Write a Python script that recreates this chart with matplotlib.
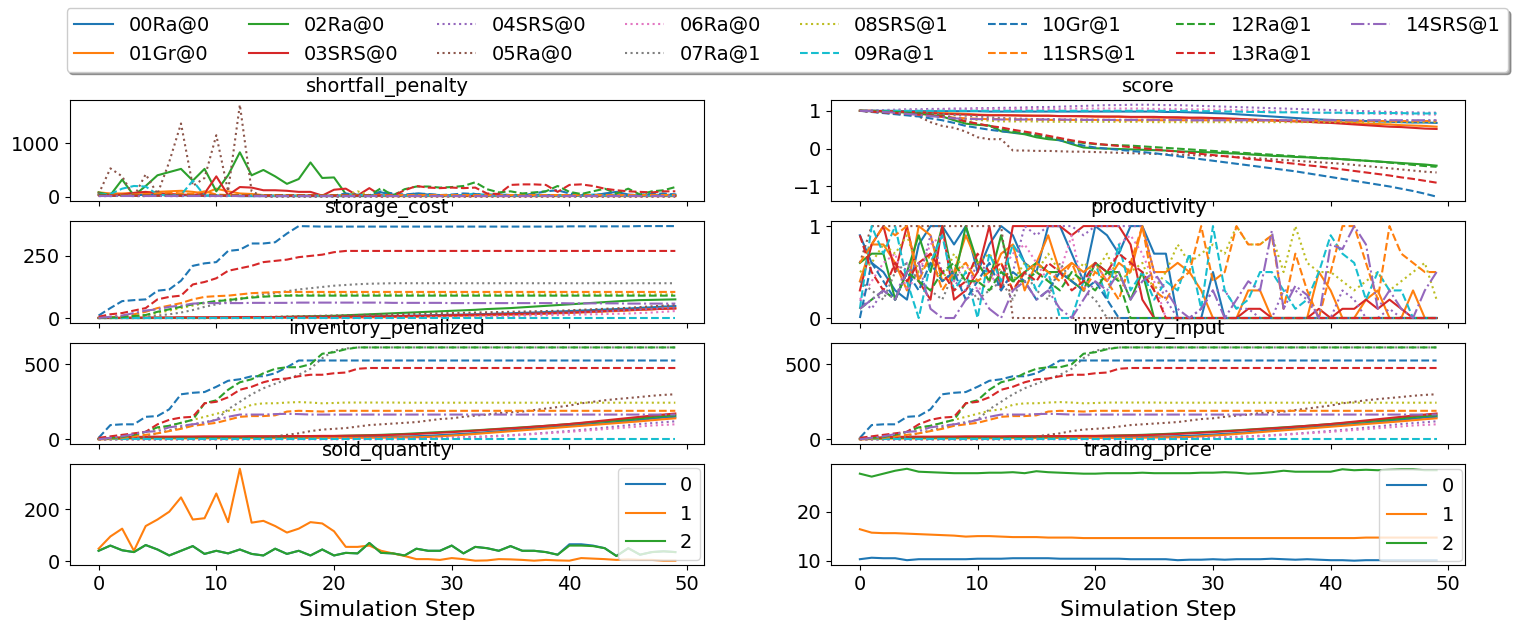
import numpy as np
import matplotlib
matplotlib.use("Agg")
import matplotlib.pyplot as plt

steps = np.arange(50)

agents = ["00Ra@0", "01Gr@0", "02Ra@0", "03SRS@0", "04SRS@0", "05Ra@0", "06Ra@0", "07Ra@1",
          "08SRS@1", "09Ra@1", "10Gr@1", "11SRS@1", "12Ra@1", "13Ra@1", "14SRS@1"]
styles = ["-"] * 4 + [":"] * 5 + ["--"] * 5 + ["-."]

# shortfall_penalty per agent
shortfall_penalty = [
    [40, 20, 30, 20, 40, 30, 30, 20, 30, 20, 20, 20, 10, 10, 10, 10, 10, 10, 10, 10,
     10, 10, 10, 10, 80, 40, 20, 60, 40, 30, 20, 20, 30, 40, 40, 30, 30, 40, 30, 20,
     20, 30, 20, 60, 90, 40, 20, 40, 30, 40],
    [80, 60, 60, 70, 80, 90, 100, 110, 90, 60, 150, 100, 60, 50, 30, 20, 20, 20, 20, 20,
     20, 20, 30, 20, 10, 10, 10, 10, 10, 10, 10, 10, 10, 10, 10, 10, 10, 10, 10, 10,
     10, 20, 10, 10, 10, 10, 10, 10, 10, 10],
    [80, 30, 320, 20, 200, 400, 460, 520, 300, 520, 100, 400, 830, 400, 500, 380, 240, 330, 640, 350,
     360, 50, 30, 20, 20, 20, 20, 20, 20, 20, 20, 20, 20, 20, 20, 20, 20, 20, 20, 20,
     20, 20, 20, 20, 20, 20, 20, 20, 20, 20],
    [30, 30, 40, 70, 90, 60, 50, 40, 30, 60, 380, 30, 180, 170, 120, 120, 110, 90, 90, 20,
     130, 150, 20, 160, 20, 20, 20, 20, 20, 20, 20, 20, 20, 20, 20, 20, 20, 20, 20, 20,
     20, 20, 20, 20, 20, 20, 20, 20, 20, 20],
    [10, 10, 20, 10, 10, 20, 10, 10, 20, 10, 10, 10, 20, 10, 10, 10, 10, 10, 10, 10,
     10, 10, 20, 10, 10, 10, 10, 10, 10, 10, 10, 10, 10, 10, 10, 10, 10, 10, 10, 10,
     10, 10, 10, 10, 10, 10, 10, 10, 10, 10],
    [50, 530, 380, 0, 420, 50, 650, 1370, 200, 350, 1150, 100, 1720, 100, 0, 0, 0, 0, 0, 0,
     0, 0, 0, 0, 0, 0, 0, 0, 0, 0, 0, 0, 0, 0, 0, 0, 0, 0, 0, 0,
     0, 0, 0, 0, 0, 0, 0, 0, 0, 0],
    [20, 20, 30, 20, 20, 30, 20, 20, 20, 20, 20, 20, 20, 20, 20, 20, 20, 20, 20, 20,
     20, 20, 20, 20, 20, 20, 20, 20, 20, 20, 20, 20, 20, 20, 20, 20, 20, 20, 20, 20,
     20, 20, 20, 20, 20, 20, 20, 20, 20, 20],
    [30, 20, 20, 30, 20, 20, 30, 20, 20, 20, 20, 30, 20, 20, 20, 20, 20, 20, 20, 20,
     20, 20, 20, 20, 20, 30, 20, 20, 20, 20, 20, 20, 40, 20, 20, 20, 20, 20, 20, 20,
     20, 20, 20, 20, 20, 20, 20, 20, 20, 20],
    [30, 30, 30, 30, 30, 40, 30, 30, 30, 30, 30, 30, 30, 30, 30, 30, 30, 30, 30, 30,
     30, 30, 100, 30, 30, 30, 30, 30, 30, 30, 30, 30, 30, 30, 30, 30, 30, 30, 30, 30,
     30, 30, 30, 30, 30, 30, 30, 30, 30, 30],
    [40, 50, 150, 200, 190, 40, 20, 30, 300, 20, 20, 20, 20, 20, 20, 20, 20, 20, 20, 20,
     20, 30, 40, 20, 20, 20, 20, 20, 20, 20, 20, 30, 60, 20, 20, 20, 20, 20, 20, 20,
     20, 20, 40, 20, 20, 20, 20, 20, 20, 20],
    [20, 20, 20, 20, 20, 20, 20, 20, 20, 20, 20, 20, 20, 20, 20, 20, 20, 20, 20, 20,
     20, 60, 30, 20, 100, 60, 40, 60, 50, 30, 40, 60, 50, 30, 40, 30, 20, 60, 100, 120,
     60, 40, 30, 50, 40, 30, 40, 50, 60, 40],
    [30, 30, 30, 40, 50, 60, 80, 60, 50, 100, 40, 30, 30, 30, 30, 30, 30, 30, 30, 30,
     30, 30, 30, 30, 30, 30, 30, 30, 30, 30, 30, 30, 30, 30, 30, 30, 30, 30, 30, 30,
     30, 30, 30, 30, 30, 30, 30, 30, 30, 30],
    [40, 20, 20, 20, 20, 20, 20, 20, 20, 20, 20, 20, 20, 20, 20, 20, 20, 20, 20, 20,
     20, 20, 20, 20, 160, 20, 140, 190, 190, 170, 180, 200, 270, 140, 80, 100, 60, 80, 100, 200,
     90, 50, 100, 150, 60, 150, 40, 100, 120, 180],
    [20, 20, 20, 20, 20, 20, 20, 20, 20, 20, 20, 20, 20, 20, 20, 20, 20, 20, 20, 20,
     20, 20, 20, 20, 20, 20, 120, 200, 170, 160, 170, 160, 170, 60, 50, 220, 230, 230, 220, 90,
     220, 230, 200, 150, 120, 100, 90, 80, 100, 100],
    [10, 10, 10, 10, 10, 10, 10, 10, 10, 10, 10, 10, 10, 10, 10, 10, 10, 10, 10, 10,
     10, 10, 10, 10, 10, 10, 10, 10, 10, 10, 10, 10, 10, 10, 10, 10, 10, 10, 10, 10,
     10, 10, 10, 10, 10, 10, 10, 10, 10, 10],
]

score = [
    [1.00, 1.00, 1.00, 1.00, 0.99, 0.99, 0.99, 0.99, 0.99, 0.99, 0.99, 0.98, 0.98, 0.98, 0.98, 0.98, 0.98, 0.98, 0.98, 0.98,
     0.98, 0.98, 0.98, 0.98, 0.98, 0.98, 0.97, 0.97, 0.96, 0.95, 0.94, 0.93, 0.91, 0.89, 0.87, 0.85, 0.83, 0.81, 0.79, 0.77,
     0.76, 0.75, 0.74, 0.73, 0.72, 0.71, 0.70, 0.69, 0.69, 0.68],
    [1.00, 1.00, 0.99, 0.98, 0.97, 0.96, 0.95, 0.94, 0.93, 0.92, 0.90, 0.89, 0.89, 0.88, 0.88, 0.87, 0.87, 0.86, 0.86, 0.85,
     0.85, 0.84, 0.84, 0.83, 0.83, 0.82, 0.82, 0.81, 0.81, 0.80, 0.80, 0.79, 0.78, 0.77, 0.76, 0.75, 0.74, 0.73, 0.72, 0.71,
     0.70, 0.69, 0.68, 0.66, 0.65, 0.64, 0.62, 0.61, 0.60, 0.58],
    [1.00, 0.99, 0.98, 0.97, 0.95, 0.92, 0.89, 0.85, 0.75, 0.66, 0.63, 0.61, 0.46, 0.42, 0.38, 0.30, 0.25, 0.22, 0.12, 0.03,
     0.01, 0.00, -0.01, -0.02, -0.03, -0.04, -0.05, -0.07, -0.08, -0.09, -0.10, -0.12, -0.13, -0.15, -0.17, -0.19, -0.20, -0.22, -0.23, -0.25,
     -0.26, -0.28, -0.30, -0.32, -0.34, -0.36, -0.38, -0.40, -0.42, -0.45],
    [1.00, 1.00, 0.99, 0.98, 0.97, 0.96, 0.94, 0.92, 0.91, 0.90, 0.89, 0.88, 0.88, 0.88, 0.87, 0.87, 0.87, 0.86, 0.86, 0.86,
     0.85, 0.85, 0.85, 0.84, 0.84, 0.84, 0.83, 0.83, 0.82, 0.82, 0.81, 0.80, 0.79, 0.77, 0.76, 0.75, 0.73, 0.72, 0.71, 0.69,
     0.68, 0.66, 0.64, 0.62, 0.60, 0.58, 0.57, 0.55, 0.53, 0.52],
    [1.00, 1.01, 1.02, 1.03, 1.04, 1.04, 1.05, 1.05, 1.06, 1.06, 1.07, 1.07, 1.08, 1.08, 1.09, 1.10, 1.10, 1.11, 1.12, 1.13,
     1.14, 1.15, 1.15, 1.16, 1.16, 1.16, 1.15, 1.15, 1.14, 1.13, 1.12, 1.11, 1.10, 1.09, 1.08, 1.07, 1.06, 1.05, 1.04, 1.03,
     1.02, 1.01, 1.00, 0.99, 0.98, 0.97, 0.96, 0.96, 0.95, 0.95],
    [1.00, 0.97, 0.95, 0.92, 0.90, 0.85, 0.70, 0.60, 0.55, 0.45, 0.30, 0.25, 0.25, -0.05, -0.05, -0.06, -0.06, -0.07, -0.08, -0.08,
     -0.09, -0.10, -0.11, -0.12, -0.13, -0.14, -0.15, -0.16, -0.17, -0.18, -0.19, -0.20, -0.22, -0.24, -0.26, -0.28, -0.30, -0.32, -0.34, -0.36,
     -0.38, -0.40, -0.43, -0.46, -0.49, -0.52, -0.55, -0.58, -0.61, -0.63],
    [1.00, 1.00, 1.01, 1.01, 1.02, 1.02, 1.02, 1.03, 1.03, 1.03, 1.04, 1.04, 1.04, 1.05, 1.05, 1.05, 1.05, 1.05, 1.06, 1.06,
     1.06, 1.06, 1.06, 1.06, 1.06, 1.05, 1.05, 1.05, 1.04, 1.04, 1.03, 1.03, 1.02, 1.01, 1.00, 0.99, 0.98, 0.97, 0.96, 0.95,
     0.95, 0.94, 0.93, 0.93, 0.92, 0.92, 0.91, 0.91, 0.90, 0.90],
    [1.00, 0.99, 0.98, 0.97, 0.96, 0.95, 0.93, 0.91, 0.89, 0.87, 0.85, 0.83, 0.81, 0.80, 0.79, 0.78, 0.78, 0.77, 0.77, 0.77,
     0.76, 0.76, 0.76, 0.76, 0.76, 0.76, 0.76, 0.75, 0.75, 0.75, 0.75, 0.75, 0.75, 0.75, 0.75, 0.75, 0.75, 0.74, 0.74, 0.74,
     0.74, 0.74, 0.74, 0.74, 0.74, 0.74, 0.74, 0.74, 0.74, 0.74],
    [1.00, 0.99, 0.97, 0.95, 0.93, 0.90, 0.87, 0.84, 0.81, 0.78, 0.76, 0.74, 0.72, 0.72, 0.72, 0.72, 0.71, 0.71, 0.71, 0.71,
     0.71, 0.71, 0.71, 0.71, 0.71, 0.70, 0.70, 0.70, 0.70, 0.70, 0.70, 0.70, 0.70, 0.70, 0.70, 0.70, 0.70, 0.70, 0.70, 0.70,
     0.70, 0.70, 0.70, 0.70, 0.70, 0.70, 0.70, 0.70, 0.70, 0.70],
    [1.00, 1.00, 1.00, 1.00, 1.00, 1.00, 1.00, 1.00, 1.00, 1.00, 1.00, 1.00, 1.00, 1.00, 1.00, 1.00, 1.00, 1.00, 1.00, 1.00,
     1.00, 1.00, 1.00, 1.00, 1.00, 1.00, 1.00, 1.00, 1.00, 0.99, 0.99, 0.98, 0.98, 0.97, 0.97, 0.96, 0.96, 0.96, 0.95, 0.95,
     0.95, 0.95, 0.94, 0.94, 0.94, 0.94, 0.94, 0.93, 0.93, 0.93],
    [1.00, 0.97, 0.94, 0.91, 0.88, 0.85, 0.80, 0.75, 0.68, 0.60, 0.55, 0.50, 0.46, 0.43, 0.40, 0.35, 0.30, 0.22, 0.15, 0.08,
     0.03, 0.00, -0.03, -0.06, -0.09, -0.12, -0.16, -0.20, -0.24, -0.28, -0.32, -0.36, -0.40, -0.44, -0.48, -0.52, -0.56, -0.60, -0.65, -0.70,
     -0.75, -0.80, -0.85, -0.90, -0.95, -1.00, -1.06, -1.12, -1.19, -1.27],
    [1.00, 0.99, 0.97, 0.95, 0.93, 0.90, 0.87, 0.84, 0.82, 0.80, 0.79, 0.78, 0.78, 0.77, 0.77, 0.77, 0.76, 0.76, 0.76, 0.76,
     0.76, 0.76, 0.75, 0.75, 0.75, 0.75, 0.75, 0.75, 0.75, 0.75, 0.75, 0.75, 0.75, 0.74, 0.74, 0.74, 0.74, 0.74, 0.74, 0.74,
     0.74, 0.74, 0.74, 0.73, 0.73, 0.73, 0.73, 0.73, 0.73, 0.73],
    [1.00, 0.99, 0.98, 0.97, 0.95, 0.93, 0.90, 0.87, 0.80, 0.72, 0.65, 0.60, 0.52, 0.45, 0.40, 0.35, 0.30, 0.26, 0.20, 0.15,
     0.12, 0.10, 0.09, 0.08, 0.06, 0.04, 0.02, 0.00, -0.02, -0.04, -0.06, -0.08, -0.10, -0.12, -0.14, -0.16, -0.18, -0.20, -0.22, -0.24,
     -0.26, -0.28, -0.30, -0.32, -0.34, -0.37, -0.40, -0.43, -0.46, -0.48],
    [1.00, 0.98, 0.96, 0.94, 0.92, 0.90, 0.88, 0.85, 0.80, 0.72, 0.66, 0.60, 0.56, 0.50, 0.45, 0.40, 0.34, 0.28, 0.22, 0.17,
     0.13, 0.10, 0.07, 0.04, 0.01, -0.02, -0.05, -0.08, -0.11, -0.14, -0.17, -0.20, -0.23, -0.27, -0.30, -0.33, -0.37, -0.40, -0.44, -0.47,
     -0.51, -0.55, -0.59, -0.63, -0.67, -0.71, -0.76, -0.80, -0.85, -0.90],
    [1.00, 0.99, 0.97, 0.95, 0.92, 0.89, 0.86, 0.83, 0.80, 0.79, 0.78, 0.78, 0.77, 0.77, 0.77, 0.77, 0.77, 0.77, 0.76, 0.76,
     0.76, 0.76, 0.76, 0.76, 0.76, 0.76, 0.76, 0.76, 0.75, 0.75, 0.75, 0.75, 0.75, 0.75, 0.75, 0.75, 0.75, 0.75, 0.75, 0.75,
     0.75, 0.75, 0.75, 0.75, 0.75, 0.75, 0.75, 0.75, 0.75, 0.75],
]

storage_cost = [
    [0, 0, 0, 0, 0, 0, 0, 0, 0, 0, 1, 1, 1, 1, 1, 1, 2, 2, 2, 3, 3, 4, 5, 6, 7, 8, 9, 10, 11, 12,
     13, 14, 15, 16, 18, 19, 21, 22, 24, 26, 28, 30, 32, 34, 36, 38, 41, 43, 46, 48],
    [0, 0, 0, 0, 0, 0, 0, 0, 0, 0, 0, 0, 0, 0, 0, 1, 1, 1, 1, 1, 2, 2, 2, 3, 3, 4, 4, 5, 6, 7,
     8, 9, 10, 11, 12, 13, 14, 16, 17, 19, 20, 22, 24, 26, 28, 30, 33, 35, 38, 40],
    [0, 0, 0, 0, 0, 1, 1, 1, 1, 1, 2, 2, 2, 3, 3, 4, 5, 6, 7, 8, 9, 11, 13, 15, 17, 19, 21, 23, 25, 27,
     29, 31, 33, 36, 38, 40, 43, 46, 49, 52, 55, 58, 61, 64, 67, 70, 72, 73, 74, 75],
    [1, 1, 1, 2, 2, 2, 2, 3, 3, 3, 3, 3, 4, 4, 4, 4, 4, 5, 5, 5, 5, 6, 6, 6, 7, 7, 8, 8, 9, 10,
     11, 12, 13, 14, 15, 16, 17, 18, 19, 21, 22, 24, 26, 28, 30, 32, 34, 35, 37, 38],
    [0, 0, 0, 0, 0, 0, 0, 0, 0, 0, 0, 0, 0, 0, 0, 0, 0, 0, 0, 0, 0, 0, 0, 0, 0, 0, 1, 1, 2, 3,
     4, 5, 6, 7, 9, 10, 12, 14, 16, 18, 20, 22, 24, 27, 29, 32, 35, 37, 40, 42],
    [0, 0, 0, 0, 0, 0, 0, 0, 0, 0, 0, 1, 2, 3, 4, 5, 6, 7, 8, 9, 10, 11, 12, 13, 14, 15, 16, 17, 18, 19,
     20, 21, 22, 23, 24, 25, 26, 27, 28, 29, 31, 33, 35, 37, 39, 41, 44, 47, 50, 52],
    [0, 0, 0, 0, 0, 0, 0, 0, 0, 0, 0, 0, 0, 0, 0, 0, 0, 0, 0, 0, 0, 0, 0, 0, 0, 1, 1, 2, 2, 3,
     3, 4, 5, 6, 7, 8, 9, 10, 11, 12, 13, 14, 15, 16, 17, 18, 20, 22, 25, 28],
    [0, 1, 2, 4, 6, 10, 15, 22, 32, 45, 55, 65, 75, 85, 95, 100, 108, 115, 120, 125, 130, 133, 136, 138, 139, 140, 140, 140, 140, 140,
     140, 140, 140, 140, 140, 140, 140, 140, 140, 140, 140, 140, 140, 140, 140, 140, 140, 140, 140, 140],
    [0, 2, 4, 8, 12, 20, 30, 40, 50, 60, 68, 75, 80, 85, 88, 90, 92, 93, 94, 95, 95, 95, 95, 95, 95, 95, 95, 95, 95, 95,
     95, 95, 95, 95, 95, 95, 95, 95, 95, 95, 95, 95, 95, 95, 95, 95, 95, 95, 95, 95],
    [0] * 50,
    [10, 40, 68, 72, 75, 110, 115, 150, 210, 220, 225, 270, 275, 300, 300, 305, 340, 370, 369, 368, 368, 368, 368, 368, 368, 368, 368, 368, 368, 368,
     368, 368, 368, 368, 368, 368, 368, 368, 368, 368, 369, 369, 369, 369, 369, 369, 370, 370, 370, 370],
    [0, 3, 8, 15, 25, 40, 50, 60, 75, 85, 88, 90, 95, 100, 102, 104, 105, 105, 105, 105, 105, 105, 105, 105, 105, 105, 105, 105, 105, 105,
     105, 105, 105, 105, 105, 105, 105, 105, 105, 105, 105, 105, 105, 105, 105, 105, 105, 105, 105, 105],
    [0, 2, 4, 8, 12, 25, 35, 45, 55, 62, 68, 72, 78, 82, 86, 88, 90, 90, 90, 90, 90, 90, 90, 90, 90, 90, 90, 90, 90, 90,
     90, 90, 90, 90, 90, 90, 90, 90, 90, 90, 90, 90, 90, 90, 90, 90, 90, 90, 90, 90],
    [5, 15, 20, 30, 40, 75, 85, 90, 135, 145, 160, 190, 200, 210, 225, 230, 235, 245, 250, 255, 265, 270, 270, 270, 270, 270, 270, 270, 270, 270,
     270, 270, 270, 270, 270, 270, 270, 270, 270, 270, 270, 270, 270, 270, 270, 270, 270, 270, 270, 270],
    [0, 5, 10, 20, 30, 35, 45, 50, 58, 60, 60, 60, 60, 61, 61, 61, 61, 62, 62, 62, 62, 62, 62, 62, 62, 61, 61, 61, 61, 61,
     60, 60, 60, 60, 60, 60, 60, 60, 60, 60, 59, 59, 59, 59, 59, 58, 58, 58, 58, 58],
]

productivity = [
    [0.9, 0.6, 0.5, 0.3, 0.2, 0.8, 1.0, 1.0, 0.8, 1.0, 0.5, 0.8, 1.0, 0.9, 0.6, 0.5, 1.0, 1.0, 0.7, 0.4,
     1.0, 0.9, 0.7, 1.0, 1.0, 0.7, 0.7, 0.0, 0.0, 0.0, 0.5, 0.0, 0.0, 0.0, 0.0, 0.0, 0.0, 0.0, 0.0, 0.0,
     0.0, 0.0, 0.0, 0.0, 0.0, 0.0, 0.0, 0.0, 0.0, 0.0],
    [0.4, 0.8, 0.8, 0.6, 0.3, 1.0, 0.9, 0.4, 0.5, 0.9, 0.6, 0.4, 0.7, 0.8, 0.3, 0.6, 0.9, 0.5, 0.6, 0.5,
     0.6, 0.4, 0.6, 0.5, 1.0, 0.5, 0.5, 0.6, 0.5, 0.3, 0.0, 0.0, 0.0, 0.3, 0.3, 0.0, 0.0, 0.0, 0.0, 0.5,
     0.3, 0.0, 0.0, 0.2, 0.3, 0.0, 0.0, 0.3, 0.0, 0.0],
    [0.6, 0.7, 0.7, 0.2, 0.5, 0.9, 0.5, 1.0, 0.4, 1.0, 0.6, 0.4, 0.9, 0.4, 0.5, 0.6, 0.5, 0.5, 0.4, 0.3,
     0.6, 0.5, 0.5, 0.2, 0.5, 0.0, 0.0, 0.0, 0.0, 0.0, 0.0, 0.0, 0.0, 0.0, 0.0, 0.0, 0.0, 0.0, 0.0, 0.0,
     0.0, 0.0, 0.0, 0.0, 0.0, 0.0, 0.0, 0.0, 0.0, 0.0],
    [0.3, 0.8, 1.0, 0.5, 1.0, 0.4, 0.2, 1.0, 0.2, 0.3, 0.5, 1.0, 0.3, 1.0, 1.0, 1.0, 1.0, 1.0, 0.9, 1.0,
     1.0, 1.0, 1.0, 0.8, 0.2, 0.0, 0.0, 0.0, 0.0, 0.0, 0.0, 0.0, 0.0, 0.1, 0.1, 0.0, 0.0, 0.0, 0.0, 0.1,
     0.0, 0.1, 0.1, 0.2, 0.1, 0.2, 0.1, 0.0, 0.0, 0.0],
    [0.2, 0.1, 0.3, 0.2, 0.6, 0.4, 0.9, 0.5, 0.4, 0.3, 0.6, 0.5, 0.3, 0.5, 1.0, 0.9, 1.0, 1.0, 1.0, 0.9,
     1.0, 1.0, 1.0, 1.0, 1.0, 0.5, 0.2, 0.0, 0.0, 0.1, 0.3, 0.3, 0.1, 0.1, 0.0, 0.0, 0.3, 0.3, 0.2, 0.0,
     0.0, 0.3, 0.2, 0.0, 0.0, 0.1, 0.0, 0.0, 0.0, 0.0],
    [0.6, 1.0, 1.0, 1.0, 1.0, 1.0, 1.0, 1.0, 1.0, 1.0, 1.0, 1.0, 1.0, 0.0, 0.0, 0.0, 0.0, 0.0, 0.0, 0.0,
     0.0, 0.0, 0.0, 0.0, 0.0, 0.0, 0.0, 0.0, 0.0, 0.0, 0.0, 0.0, 0.0, 0.0, 0.0, 0.0, 0.0, 0.0, 0.0, 0.0,
     0.0, 0.0, 0.0, 0.0, 0.0, 0.0, 0.0, 0.0, 0.0, 0.0],
    [0.2, 0.4, 0.6, 0.7, 0.3, 0.5, 0.8, 0.9, 0.4, 0.6, 0.3, 0.4, 0.5, 0.7, 0.8, 0.6, 0.4, 0.5, 0.9, 0.3,
     0.6, 0.4, 0.8, 0.9, 0.7, 0.4, 0.0, 0.0, 0.0, 0.0, 0.0, 0.0, 0.0, 0.0, 0.0, 0.0, 0.0, 0.0, 0.0, 0.0,
     0.0, 0.0, 0.0, 0.0, 0.0, 0.0, 0.0, 0.0, 0.0, 0.0],
    [0.4, 0.3, 0.2, 0.5, 0.6, 0.4, 0.3, 0.2, 0.5, 0.4, 0.2, 0.3, 0.4, 0.2, 0.5, 0.3, 0.2, 0.6, 0.4, 0.3,
     0.2, 0.0, 0.0, 0.0, 0.0, 0.0, 0.0, 0.0, 0.0, 0.0, 0.0, 0.0, 0.0, 0.0, 0.0, 0.0, 0.0, 0.0, 0.0, 0.0,
     0.0, 0.0, 0.0, 0.0, 0.0, 0.0, 0.0, 0.0, 0.0, 0.0],
    [0.5, 0.6, 0.8, 0.7, 0.9, 0.5, 0.6, 0.4, 0.7, 0.5, 0.6, 0.7, 0.5, 0.4, 0.6, 0.5, 0.7, 0.5, 0.4, 0.6,
     0.5, 0.7, 0.4, 0.5, 0.6, 0.3, 0.5, 0.8, 0.6, 0.7, 0.8, 0.7, 1.0, 0.8, 0.8, 0.9, 0.5, 1.0, 0.6, 0.5,
     0.5, 0.4, 0.3, 0.4, 0.5, 0.3, 0.4, 0.5, 0.6, 0.2],
    [0.1, 1.0, 0.7, 1.0, 0.4, 0.0, 0.6, 0.9, 0.3, 0.5, 0.0, 0.7, 0.4, 0.8, 0.6, 0.3, 0.5, 0.0, 0.0, 0.4,
     0.6, 0.2, 0.8, 0.3, 0.5, 0.2, 0.4, 0.3, 0.7, 0.1, 1.0, 0.3, 0.1, 0.2, 0.5, 0.5, 0.3, 0.1, 0.2, 0.5,
     0.9, 0.7, 0.6, 0.2, 0.5, 0.3, 0.3, 0.0, 0.0, 0.0],
    [0.0, 0.6, 0.4, 0.2, 0.5, 0.3, 0.6, 0.4, 0.5, 0.2, 0.4, 0.6, 0.3, 0.5, 0.4, 0.2, 0.3, 0.5, 0.4, 0.3,
     0.4, 0.2, 0.0, 0.0, 0.0, 0.0, 0.0, 0.0, 0.0, 0.0, 0.0, 0.0, 0.0, 0.0, 0.0, 0.0, 0.0, 0.0, 0.0, 0.0,
     0.0, 0.0, 0.0, 0.0, 0.0, 0.0, 0.0, 0.0, 0.0, 0.0],
    [0.6, 0.8, 1.0, 0.9, 1.0, 0.4, 0.7, 0.3, 0.5, 0.6, 0.4, 0.5, 0.6, 0.3, 0.5, 0.6, 0.5, 0.4, 0.6, 0.3,
     0.5, 0.4, 0.2, 0.6, 1.0, 0.3, 0.2, 0.4, 0.5, 1.0, 0.4, 0.5, 1.0, 0.8, 0.8, 0.9, 0.1, 0.7, 0.3, 0.0,
     0.5, 1.0, 1.0, 0.6, 0.2, 1.0, 0.7, 0.6, 0.5, 0.5],
    [0.1, 0.2, 0.3, 0.2, 0.5, 0.4, 0.3, 0.5, 0.6, 0.4, 0.4, 0.3, 0.5, 0.4, 0.4, 0.5, 0.4, 0.3, 0.5, 0.4,
     0.3, 0.5, 0.4, 0.0, 0.0, 0.0, 0.0, 0.0, 0.0, 0.0, 0.0, 0.0, 0.0, 0.0, 0.0, 0.0, 0.0, 0.0, 0.0, 0.0,
     0.0, 0.0, 0.0, 0.0, 0.0, 0.0, 0.0, 0.0, 0.0, 0.0],
    [0.9, 0.5, 0.3, 0.6, 0.4, 0.6, 0.7, 0.5, 0.3, 0.4, 0.7, 0.5, 0.6, 0.3, 0.5, 0.4, 0.6, 0.5, 0.3, 0.4,
     0.6, 0.5, 0.7, 0.6, 0.5, 0.3, 0.0, 0.0, 0.0, 0.0, 0.0, 0.0, 0.0, 0.0, 0.0, 0.0, 0.0, 0.0, 0.0, 0.0,
     0.0, 0.0, 0.0, 0.0, 0.0, 0.0, 0.0, 0.0, 0.0, 0.0],
    [0.1, 0.2, 0.3, 0.2, 0.5, 0.6, 0.1, 0.0, 0.0, 0.2, 0.3, 0.1, 0.0, 0.3, 0.4, 0.2, 0.3, 0.1, 0.0, 0.2,
     0.4, 0.3, 0.5, 0.2, 0.4, 0.5, 0.3, 0.1, 0.0, 0.1, 0.3, 0.0, 0.2, 0.4, 0.3, 0.95, 0.1, 0.35, 0.25, 0.0,
     0.8, 0.75, 1.0, 0.8, 0.1, 0.3, 0.1, 0.0, 0.3, 0.5],
]

inventory_penalized = [
    [2, 5, 8, 10, 10, 10, 11, 11, 11, 11, 12, 12, 12, 12, 13, 13, 13, 13, 14, 14, 14, 15, 15, 15, 16, 17, 19, 21, 24, 28,
     32, 37, 42, 48, 54, 60, 66, 72, 78, 84, 90, 96, 102, 108, 115, 122, 130, 138, 145, 150],
    [0, 2, 4, 5, 5, 6, 6, 6, 7, 7, 7, 7, 8, 8, 8, 8, 9, 9, 9, 10, 10, 10, 10, 11, 11, 12, 13, 14, 16, 20,
     25, 30, 36, 42, 48, 54, 60, 66, 72, 78, 84, 90, 96, 102, 108, 114, 120, 127, 134, 140],
    [3, 6, 8, 10, 11, 12, 12, 13, 13, 14, 14, 15, 15, 16, 16, 17, 18, 19, 20, 21, 22, 24, 26, 28, 30, 33, 36, 40, 44, 48,
     52, 56, 60, 65, 70, 75, 80, 85, 90, 96, 102, 108, 114, 120, 126, 132, 140, 148, 155, 160],
    [5, 10, 14, 16, 17, 18, 18, 19, 19, 20, 20, 20, 20, 21, 21, 21, 22, 22, 22, 23, 23, 24, 25, 26, 28, 30, 33, 36, 40, 44,
     48, 53, 58, 63, 68, 73, 78, 84, 90, 96, 102, 110, 118, 126, 134, 142, 150, 158, 165, 172],
    [0, 0, 1, 1, 1, 1, 2, 2, 2, 2, 3, 3, 3, 3, 4, 4, 4, 5, 5, 5, 5, 6, 6, 6, 7, 7, 8, 8, 9, 10,
     12, 14, 17, 20, 24, 28, 33, 38, 44, 50, 56, 63, 70, 78, 86, 94, 102, 108, 114, 120],
    [0, 0, 0, 0, 0, 0, 0, 0, 0, 0, 0, 0, 0, 2, 10, 20, 30, 40, 55, 65, 70, 75, 85, 95, 100, 105, 110, 115, 125, 135,
     140, 150, 158, 165, 175, 180, 185, 195, 205, 215, 225, 240, 250, 260, 268, 275, 282, 290, 296, 300],
    [0, 0, 0, 0, 0, 0, 0, 0, 0, 0, 0, 0, 0, 0, 0, 0, 0, 0, 0, 0, 0, 0, 0, 0, 0, 0, 1, 2, 3, 5,
     7, 10, 13, 17, 21, 25, 30, 35, 40, 45, 50, 56, 62, 68, 74, 80, 86, 92, 96, 100],
    [0, 2, 5, 10, 20, 40, 60, 80, 100, 115, 130, 200, 250, 300, 340, 370, 400, 430, 470, 540, 590, 605, 612, 612, 612, 612, 612, 612, 612, 612,
     612, 612, 612, 612, 612, 612, 612, 612, 612, 612, 612, 612, 612, 612, 612, 612, 612, 612, 612, 612],
    [0, 5, 15, 30, 50, 70, 90, 110, 130, 150, 170, 190, 200, 230, 240, 240, 245, 248, 245, 240, 242, 245, 245, 245, 245, 245, 244, 244, 244, 244,
     244, 244, 244, 244, 244, 244, 244, 244, 244, 244, 244, 244, 244, 244, 244, 244, 244, 244, 244, 244],
    [0] * 50,
    [10, 95, 100, 100, 150, 155, 200, 300, 310, 315, 350, 390, 400, 420, 420, 440, 480, 525, 525, 525, 525, 525, 525, 525, 525, 525, 525, 525, 525, 525,
     525, 525, 525, 525, 525, 525, 525, 525, 525, 525, 525, 525, 525, 525, 525, 525, 525, 525, 525, 525],
    [0, 5, 10, 20, 30, 40, 55, 70, 90, 100, 110, 130, 150, 155, 155, 160, 185, 190, 188, 185, 190, 190, 190, 190, 190, 190, 190, 190, 190, 190,
     190, 190, 190, 190, 190, 190, 190, 190, 190, 190, 190, 190, 190, 190, 190, 190, 190, 190, 190, 190],
    [5, 10, 15, 30, 50, 80, 90, 110, 130, 240, 260, 330, 380, 400, 440, 470, 480, 480, 500, 570, 580, 600, 612, 612, 612, 612, 612, 612, 612, 612,
     612, 612, 612, 612, 612, 612, 612, 612, 612, 612, 612, 612, 612, 612, 612, 612, 612, 612, 612, 612],
    [10, 20, 30, 40, 50, 100, 130, 145, 150, 240, 250, 280, 330, 350, 380, 400, 405, 420, 430, 430, 440, 445, 470, 475, 475, 475, 475, 475, 475, 475,
     475, 475, 475, 475, 475, 475, 475, 475, 475, 475, 475, 475, 475, 475, 475, 475, 475, 475, 475, 475],
    [0, 10, 20, 35, 50, 55, 80, 90, 100, 110, 130, 150, 165, 165, 165, 168, 170, 168, 165, 165, 165, 165, 165, 165, 165, 165, 165, 165, 165, 165,
     165, 165, 165, 165, 165, 165, 165, 165, 165, 165, 165, 165, 165, 165, 165, 165, 165, 165, 165, 165],
]

# inventory_input is drawn identical to inventory_penalized in the source
inventory_input = inventory_penalized

products = ["0", "1", "2"]
sold_quantity = [
    [40, 60, 42, 35, 62, 45, 22, 40, 58, 28, 40, 30, 45, 28, 22, 48, 28, 40, 22, 45,
     22, 32, 30, 70, 32, 30, 22, 48, 40, 40, 60, 30, 55, 50, 40, 58, 40, 40, 35, 25,
     65, 65, 60, 50, 20, 50, 25, 35, 38, 35],
    [48, 95, 125, 40, 135, 160, 190, 245, 160, 165, 260, 150, 355, 148, 155, 135, 110, 125, 150, 145,
     115, 55, 55, 60, 40, 30, 20, 8, 8, 5, 12, 8, 2, 3, 8, 7, 5, 2, 5, 3,
     2, 12, 10, 8, 5, 7, 5, 5, 2, 2],
    [40, 60, 42, 35, 62, 45, 22, 40, 58, 28, 40, 30, 45, 28, 22, 48, 28, 40, 22, 45,
     22, 32, 30, 70, 32, 30, 22, 48, 40, 40, 60, 30, 55, 50, 40, 58, 40, 40, 35, 25,
     60, 60, 58, 50, 20, 50, 25, 35, 38, 35],
]

trading_price = [
    [10.3, 10.6, 10.5, 10.5, 10.1, 10.3, 10.3, 10.3, 10.3, 10.3, 10.4, 10.4, 10.4, 10.5, 10.5, 10.5, 10.5, 10.4, 10.4, 10.4,
     10.4, 10.4, 10.4, 10.3, 10.3, 10.3, 10.3, 10.1, 10.2, 10.2, 10.3, 10.2, 10.3, 10.3, 10.3, 10.4, 10.3, 10.2, 10.3, 10.2,
     10.1, 10.1, 10.0, 10.1, 10.1, 10.1, 10.1, 10.1, 10.1, 10.1],
    [16.4, 15.7, 15.6, 15.6, 15.5, 15.4, 15.3, 15.2, 15.1, 14.9, 15.0, 15.0, 14.9, 14.8, 14.8, 14.8, 14.7, 14.7, 14.7, 14.6,
     14.6, 14.6, 14.6, 14.6, 14.6, 14.6, 14.6, 14.6, 14.6, 14.6, 14.6, 14.6, 14.6, 14.6, 14.6, 14.6, 14.6, 14.6, 14.6, 14.6,
     14.6, 14.6, 14.6, 14.7, 14.7, 14.7, 14.7, 14.7, 14.7, 14.7],
    [27.7, 27.1, 27.7, 28.3, 28.7, 28.1, 28.0, 27.9, 27.8, 27.8, 27.8, 27.9, 27.9, 28.0, 27.8, 28.2, 28.0, 27.9, 27.8, 27.7,
     27.7, 27.8, 27.8, 27.8, 27.9, 27.8, 27.8, 27.8, 27.8, 27.9, 27.9, 28.0, 27.9, 27.7, 27.8, 28.0, 28.3, 28.1, 28.1, 28.1,
     28.1, 28.6, 28.4, 28.5, 28.4, 28.5, 28.6, 28.6, 28.4, 28.4],
]

agent_panels = [("shortfall_penalty", shortfall_penalty), ("score", score),
                ("storage_cost", storage_cost), ("productivity", productivity),
                ("inventory_penalized", inventory_penalized), ("inventory_input", inventory_input)]

plt.rcParams["font.size"] = 14
fig, axs = plt.subplots(4, 2, figsize=(15.17, 6.26), dpi=100, sharex=True)
fig.subplots_adjust(left=0.046, right=0.966, top=0.84, bottom=0.097, hspace=0.2, wspace=0.2)

for ax, (name, data) in zip(axs.flat[:6], agent_panels):
    for i, (label, vals) in enumerate(zip(agents, data)):
        ax.plot(steps, vals, linestyle=styles[i], color=f"C{i % 10}", label=label)
    ax.set_title(name, fontsize=14)

for ax, name, data, loc in [(axs[3, 0], "sold_quantity", sold_quantity, "upper right"),
                            (axs[3, 1], "trading_price", trading_price, "lower right")]:
    for i, (label, vals) in enumerate(zip(products, data)):
        ax.plot(steps, vals, color=f"C{i}", label=label)
    ax.set_title(name, fontsize=14)
    ax.legend(loc=loc, fontsize=14, borderaxespad=0.2)
    ax.set_xlabel("Simulation Step", fontsize=16)

handles, labels = axs[0, 0].get_legend_handles_labels()
fig.legend(handles, labels, loc="upper center", ncol=8, fontsize=14, shadow=True,
           bbox_to_anchor=(0.519, 1.002))

fig.savefig("out.png", dpi=100)
